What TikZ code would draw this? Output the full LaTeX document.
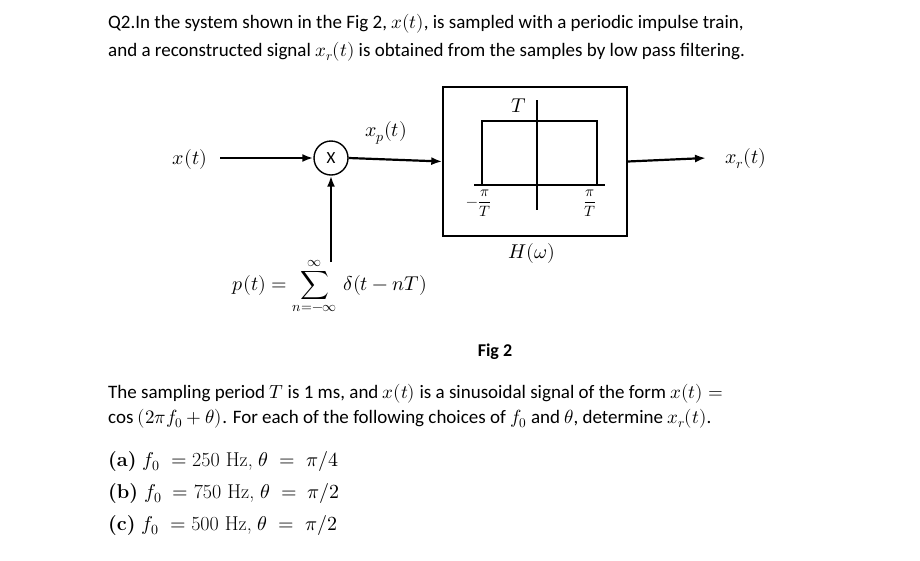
\documentclass[tikz,border=0pt]{standalone}
\usepackage{fontspec}
\setmainfont{Carlito}
\usepackage{unicode-math}
\setmathfont{Latin Modern Math}
\newfontfamily\lmr{Latin Modern Roman}
\usetikzlibrary{arrows.meta}
\begin{document}
\begin{tikzpicture}[x=1pt,y=-1pt,
  txt/.style={anchor=base west,inner sep=0,font=\fontsize{19}{22}\selectfont},
  dg/.style={inner sep=0,font=\fontsize{20}{22}\selectfont\boldmath},
  sig/.style={line width=2.2pt,-{Latex[length=11pt,width=8pt]}},
  thick2/.style={line width=2.4pt}]
\useasboundingbox (0,0) rectangle (920,560);
\fill[white] (0,0) rectangle (920,560);
\node[txt] (l1) at (108,28) {Q2.In the system shown in the Fig 2, $x(t)$, is sampled with a periodic impulse train,};
\node[txt] (l2) at (108,56) {and a reconstructed signal $x_r(t)$ is obtained from the samples by low pass filtering.};
% diagram
\node[dg] (x) at (190,159) {$x(t)$};
\node[draw,circle,minimum size=34pt,inner sep=0,line width=1.4pt,font=\fontsize{17}{18}\selectfont] (m) at (331,158) {X};
\node[draw,line width=1.4pt,minimum width=184pt,minimum height=149pt,inner sep=0] (box) at (535,161.5) {};
\node[dg] (xr) at (746,159) {$x_r(t)$};
\node[dg] (xp) at (386,133) {$x_p(t)$};
\coordinate (pb) at (331,262);
\coordinate (xs) at (220,158);
\coordinate (xe) at (706,158);
\draw[sig] (xs) -- (m.west);
\draw[sig] (m.east) -- (box.west);
\draw[sig] (box.east) -- (xe);
\draw[sig] (pb) -- (m.south);
% filter
\coordinate (bl) at (474,185); \coordinate (br) at (605,185);
\coordinate (at) at (537,100); \coordinate (ab) at (537,210);
\draw[line width=1.4pt] (bl) -- (br);
\draw[line width=1.2pt] (at) -- (ab);
\draw[thick2] (482,185) -- (482,121) -- (597,121) -- (597,185);
\node[dg] (T) at (519,106) {$T$};
\node[dg,font=\fontsize{15}{16}\selectfont\boldmath] (wm) at (479,203) {$-\displaystyle\frac{\pi}{T}$};
\node[dg,font=\fontsize{15}{16}\selectfont\boldmath] (wp) at (590,203) {$\displaystyle\frac{\pi}{T}$};
\node[dg] (H) at (532,253) {$H(\omega)$};
\node[dg,anchor=base] (p) at (330,290) {$p(t)=\displaystyle\sum_{n=-\infty}^{\infty}\,\delta(t-nT)$};
\node[inner sep=0,font=\bfseries\fontsize{18}{20}\selectfont] (fig) at (495,352) {Fig 2};
\node[txt] (l3) at (108,398) {The sampling period $T$ is 1 ms, and $x(t)$ is a sinusoidal signal of the form $x(t)=$};
\node[txt] (l4) at (108,423) {cos $(2\pi f_0+\theta)$. For each of the following choices of $f_0$ and $\theta$, determine $x_r(t)$.};
\begin{scope}[every node/.style={txt,font=\lmr\fontsize{20}{22}\selectfont}]
\node (a) at (108,466) {\textbf{(a)} $f_0\;=\;$250 Hz, $\theta\;=\;\pi/4$};
\node (b) at (108,498) {\textbf{(b)} $f_0\;=\;$750 Hz, $\theta\;=\;\pi/2$};
\node (c) at (108,530) {\textbf{(c)} $f_0\;=\;$500 Hz, $\theta\;=\;\pi/2$};
\end{scope}
\end{tikzpicture}
\end{document}
